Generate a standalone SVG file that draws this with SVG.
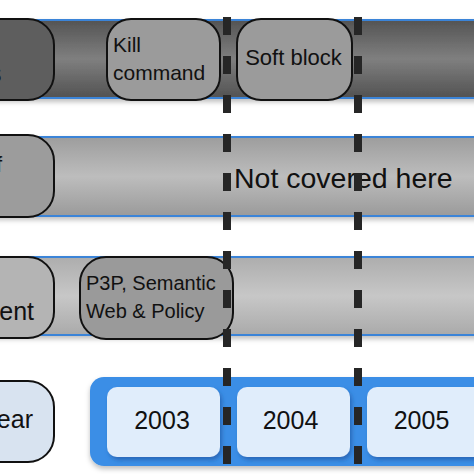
<svg xmlns="http://www.w3.org/2000/svg" width="474" height="474" viewBox="0 0 474 474">
<defs>
<linearGradient id="g1" x1="0" y1="0" x2="0" y2="1"><stop offset="0" stop-color="#545454"/><stop offset="0.5" stop-color="#7f7f7f"/><stop offset="1" stop-color="#525252"/></linearGradient>
<linearGradient id="g2" x1="0" y1="0" x2="0" y2="1"><stop offset="0" stop-color="#9d9d9d"/><stop offset="0.5" stop-color="#bdbdbd"/><stop offset="1" stop-color="#9a9a9a"/></linearGradient>
<linearGradient id="g3" x1="0" y1="0" x2="0" y2="1"><stop offset="0" stop-color="#adadad"/><stop offset="0.5" stop-color="#c7c7c7"/><stop offset="1" stop-color="#aaaaaa"/></linearGradient>
<filter id="sh" x="-10%" y="-20%" width="120%" height="150%"><feDropShadow dx="0" dy="3" stdDeviation="2.5" flood-color="#000" flood-opacity="0.25"/></filter>
<filter id="bsh" x="-10%" y="-20%" width="120%" height="150%"><feDropShadow dx="2" dy="3" stdDeviation="2" flood-color="#1a4f9a" flood-opacity="0.6"/></filter>
<style>
.bar{stroke:#3b84d8;stroke-width:2}
.node{stroke:#111;stroke-width:2}
.t{font-family:"Liberation Sans",Arial,sans-serif;fill:#111}
.yr{fill:#e0edfb}
.div{stroke:#262626;stroke-width:8;stroke-dasharray:18 21;fill:none}
</style>
</defs>
<!-- row bars -->
<rect class="bar" x="-10" y="20" width="500" height="78" fill="url(#g1)" filter="url(#sh)"/>
<rect class="bar" x="-10" y="137" width="500" height="79" fill="url(#g2)" filter="url(#sh)"/>
<rect class="bar" x="-10" y="257" width="500" height="78" fill="url(#g3)" filter="url(#sh)"/>
<rect x="90" y="377" width="400" height="89" rx="14" fill="#3b8ee6" filter="url(#sh)"/>

<g id="row1-label"><rect class="node" x="-60" y="19" width="114" height="81" rx="26" fill="#5e5e5e"/><text class="t" x="1.5" y="82" font-size="25" text-anchor="end">s</text></g>
<g id="kill-command"><rect class="node" x="107" y="19" width="113" height="81" rx="24" fill="#9b9b9b"/><text class="t" x="113" y="52" font-size="21">Kill</text><text class="t" x="113" y="80" font-size="21">command</text></g>
<g id="soft-block"><rect class="node" x="237" y="19" width="115" height="81" rx="24" fill="#9b9b9b"/><text class="t" x="293.5" y="65" font-size="22" text-anchor="middle">Soft block</text></g>

<g id="row2-label"><rect class="node" x="-60" y="135" width="114" height="82" rx="26" fill="#9c9c9c"/><text class="t" x="2" y="172" font-size="22" text-anchor="end">f</text></g>
<g id="not-covered"><text class="t" x="234" y="188" font-size="28.5">Not covered here</text></g>

<g id="row3-label"><rect class="node" x="-60" y="257" width="114" height="81" rx="26" fill="#b4b4b4"/><text class="t" x="34" y="320" font-size="25" text-anchor="end">ent</text></g>
<g id="p3p"><rect class="node" x="80" y="257" width="153" height="82" rx="26" fill="#9a9a9a"/><text class="t" x="86" y="290" font-size="20">P3P, Semantic</text><text class="t" x="86" y="318" font-size="20">Web &amp; Policy</text></g>

<g id="year-label"><rect class="node" x="-60" y="381" width="114" height="81" rx="26" fill="#d8e3f0"/><text class="t" x="33" y="428" font-size="25" text-anchor="end">ear</text></g>
<g id="y2003"><rect class="yr" x="107" y="387" width="113" height="70" rx="10" filter="url(#bsh)"/><text class="t" x="162" y="429" font-size="25" text-anchor="middle">2003</text></g>
<g id="y2004"><rect class="yr" x="237" y="387" width="113" height="70" rx="10" filter="url(#bsh)"/><text class="t" x="290.5" y="429" font-size="25" text-anchor="middle">2004</text></g>
<g id="y2005"><rect class="yr" x="367" y="387" width="120" height="70" rx="10" filter="url(#bsh)"/><text class="t" x="421.5" y="429" font-size="25" text-anchor="middle">2005</text></g>

<g id="connectors">
<line class="div" x1="227" y1="17" x2="227" y2="466"/>
<line class="div" x1="358" y1="17" x2="358" y2="466"/>
</g>
</svg>
